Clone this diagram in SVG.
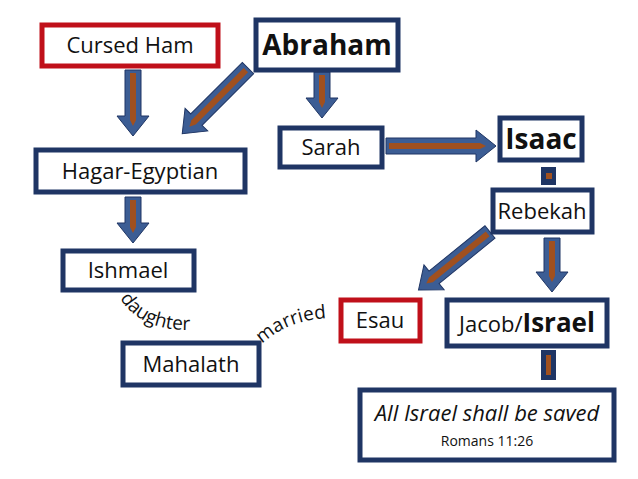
<svg xmlns="http://www.w3.org/2000/svg" width="638" height="479" viewBox="0 0 638 479">
<style>
.b{fill:#fff;stroke:#1f3564;stroke-width:5}
.r{fill:#fff;stroke:#c0101a;stroke-width:5}
.t{font-family:"Open Sans","Liberation Sans",sans-serif;font-size:22px;fill:#111;text-anchor:middle}
.bd{font-weight:bold;font-size:28px}
.ao{fill:#3c5d94;stroke:#1f3564;stroke-width:1}
.ai{fill:#a0501f}
.c{font-family:"Open Sans","Liberation Sans",sans-serif;font-size:19px;fill:#111}
</style>
<defs>
<path id="p1" d="M120,298 Q140,332 196,330"/>
<path id="p2" d="M262,344 Q290,318 334,318"/>
</defs>
<g id="connectors">
<g transform="translate(133,70) rotate(90)"><polygon class="ao" points="0,-8 46,-8 46,-16 66,0 46,16 46,8 0,8"/><polygon class="ai" points="3,-3 50,-3 56,0 50,3 3,3"/></g>
<g transform="translate(248,68) rotate(135)"><polygon class="ao" points="0,-8 73,-8 73,-16 93,0 73,16 73,8 0,8"/><polygon class="ai" points="3,-3 77,-3 83,0 77,3 3,3"/></g>
<g transform="translate(322,72) rotate(90)"><polygon class="ao" points="0,-8 26,-8 26,-16 46,0 26,16 26,8 0,8"/><polygon class="ai" points="3,-3 30,-3 36,0 30,3 3,3"/></g>
<g transform="translate(386,146)"><polygon class="ao" points="0,-8 90,-8 90,-16 110,0 90,16 90,8 0,8"/><polygon class="ai" points="3,-3 94,-3 100,0 94,3 3,3"/></g>
<g transform="translate(133,197) rotate(90)"><polygon class="ao" points="0,-8 26,-8 26,-16 46,0 26,16 26,8 0,8"/><polygon class="ai" points="3,-3 30,-3 36,0 30,3 3,3"/></g>
<g transform="translate(490,232) rotate(141)"><polygon class="ao" points="0,-8 72,-8 72,-16 92,0 72,16 72,8 0,8"/><polygon class="ai" points="3,-3 76,-3 82,0 76,3 3,3"/></g>
<g transform="translate(552,238) rotate(90)"><polygon class="ao" points="0,-8 34,-8 34,-16 54,0 34,16 34,8 0,8"/><polygon class="ai" points="3,-3 38,-3 44,0 38,3 3,3"/></g>
<rect x="541" y="167" width="15" height="18" fill="#1f3564"/><rect x="546" y="173" width="6" height="6" fill="#a0501f"/>
<rect x="541" y="350" width="15" height="30" fill="#1f3564"/><rect x="546" y="355" width="5" height="20" fill="#a0501f"/>
<text class="c"><textPath href="#p1">daughter</textPath></text>
<text class="c"><textPath href="#p2">married</textPath></text>
</g>
<g id="ham"><rect class="r" x="42" y="25" width="176" height="41"/><text class="t" x="130" y="53">Cursed Ham</text></g>
<g id="abraham"><rect class="b" x="256" y="20" width="142" height="50"/><text class="t bd" x="327" y="55">Abraham</text></g>
<g id="hagar"><rect class="b" x="36" y="150" width="209" height="42"/><text class="t" x="140" y="179">Hagar-Egyptian</text></g>
<g id="sarah"><rect class="b" x="280" y="128" width="102" height="39"/><text class="t" x="331" y="155">Sarah</text></g>
<g id="isaac"><rect class="b" x="500" y="118" width="82" height="42"/><text class="t bd" x="541" y="149">Isaac</text></g>
<g id="rebekah"><rect class="b" x="493" y="190" width="99" height="42"/><text class="t" x="542" y="219">Rebekah</text></g>
<g id="ishmael"><rect class="b" x="63" y="251" width="131" height="39"/><text class="t" x="128" y="278">Ishmael</text></g>
<g id="esau"><rect class="r" x="341" y="300" width="79" height="41"/><text class="t" x="380" y="328">Esau</text></g>
<g id="jacob"><rect class="b" x="447" y="300" width="160" height="46"/><text class="t" x="527" y="332">Jacob/<tspan style="font-weight:bold;font-size:26px">Israel</tspan></text></g>
<g id="mahalath"><rect class="b" x="123" y="343" width="136" height="42"/><text class="t" x="191" y="372">Mahalath</text></g>
<g id="saved"><rect class="b" x="360" y="390" width="254" height="70"/><text class="t" x="487" y="421" style="font-style:italic">All Israel shall be saved</text><text class="t" x="487" y="446" style="font-size:14px">Romans 11:26</text></g>
</svg>
